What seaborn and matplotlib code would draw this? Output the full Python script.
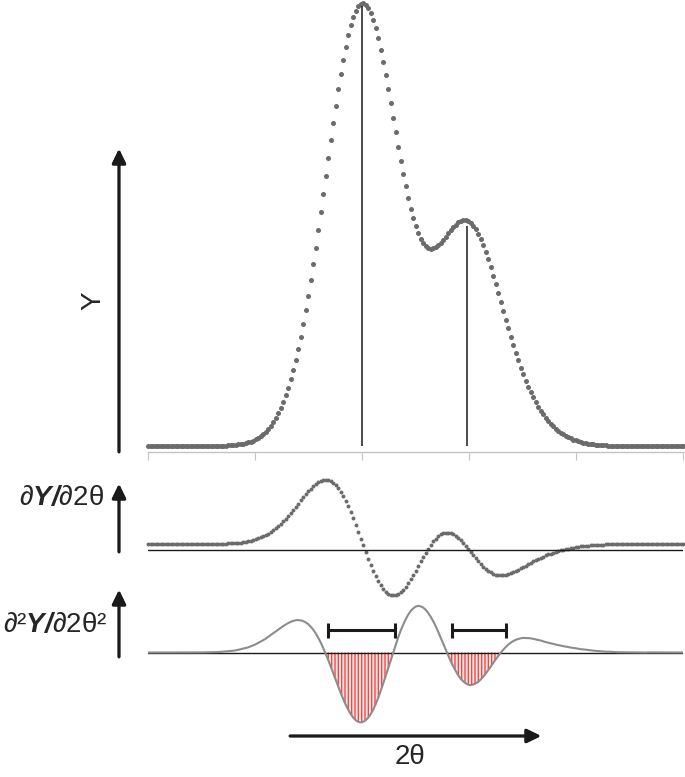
import numpy as np
import pandas as pd
import seaborn as sns
import matplotlib
matplotlib.use("Agg")
import matplotlib.pyplot as plt

# measured profile, one value per 2theta step (arbitrary units)
intensity = [
    0, 0, 0, 0, 0, 0, 0, 0, 0, 0, 0, 0, 0, 0, 0, 0, 0.01, 0.01, 0.01, 0.02,
    0.02, 0.03, 0.04, 0.05, 0.07, 0.09, 0.12, 0.16, 0.21, 0.27, 0.35, 0.45, 0.58, 0.74, 0.95, 1.2, 1.51, 1.89, 2.36, 2.94,
    3.64, 4.48, 5.49, 6.7, 8.13, 9.83, 11.83, 14.17, 16.89, 20.04, 23.68, 27.84, 32.59, 37.96, 44.03, 50.82, 58.4, 66.79, 76.04, 86.17,
    97.2, 109.14, 121.98, 135.7, 150.27, 165.64, 181.74, 198.49, 215.79, 233.51, 251.53, 269.69, 287.83, 305.78, 323.36, 340.38, 356.65, 371.99, 386.21, 399.14,
    410.62, 420.51, 428.69, 435.05, 439.52, 442.05, 442.62, 441.25, 437.98, 432.87, 426.03, 417.58, 407.67, 396.47, 384.18, 371, 357.15, 342.84, 328.3, 313.74,
    299.4, 285.46, 272.13, 259.57, 247.93, 237.34, 227.92, 219.72, 212.81, 207.21, 202.9, 199.86, 198.02, 197.3, 197.58, 198.76, 200.68, 203.2, 206.14, 209.34,
    212.64, 215.87, 218.86, 221.48, 223.59, 225.07, 225.81, 225.75, 224.83, 223.01, 220.27, 216.63, 212.13, 206.79, 200.69, 193.91, 186.52, 178.64, 170.34, 161.75,
    152.96, 144.06, 135.15, 126.31, 117.62, 109.14, 100.94, 93.05, 85.52, 78.36, 71.6, 65.25, 59.3, 53.76, 48.61, 43.85, 39.45, 35.4, 31.69, 28.29,
    25.18, 22.35, 19.77, 17.43, 15.32, 13.41, 11.7, 10.16, 8.79, 7.57, 6.49, 5.53, 4.7, 3.97, 3.33, 2.78, 2.31, 1.91, 1.57, 1.28,
    1.04, 0.84, 0.67, 0.54, 0.42, 0.33, 0.26, 0.2, 0.16, 0.12, 0.09, 0.07, 0.05, 0.04, 0.03, 0.02, 0.02, 0.01, 0.01, 0.01,
    0, 0, 0, 0, 0, 0, 0, 0, 0, 0, 0, 0, 0, 0, 0,
]
peak_positions = [85.6, 127.6]
peak_heights = [440, 220]
bracket_starts = [72, 121.6]
bracket_ends = [98.8, 143.2]
tick_positions = [0, 42.8, 85.6, 128.4, 171.2, 214]

df = pd.DataFrame({"two_theta": np.arange(len(intensity)), "Y": intensity})
# derivative traces, scaled for display
df["dY"] = np.gradient(df["Y"]) * 3.52
df["d2Y"] = np.gradient(np.gradient(df["Y"])) * 35.84

W, H = 685, 777
sns.set_theme(style="white")
plt.rcParams["font.family"] = ["Liberation Sans", "DejaVu Sans"]
plt.rcParams["mathtext.fontset"] = "custom"
plt.rcParams["mathtext.rm"] = "Liberation Sans"
plt.rcParams["mathtext.it"] = "Liberation Sans:italic"
plt.rcParams["mathtext.bf"] = "Liberation Sans:bold:italic"
plt.rcParams["hatch.linewidth"] = 1.0
plt.rcParams["hatch.color"] = "#ee4a44"

fig = plt.figure(figsize=(W / 100, H / 100), dpi=100)


def px_axes(x0, y_top, x1, y_bottom):
    # axes placed by pixel box (origin top-left)
    return fig.add_axes([x0 / W, 1 - y_bottom / H, (x1 - x0) / W, (y_bottom - y_top) / H])


dot = "#6b6b6b"
ax_top = px_axes(148, 4, 683, 446)
ax_mid = px_axes(148, 470, 683, 600)
ax_bot = px_axes(148, 600, 683, 730)

# Y
sns.scatterplot(data=df, x="two_theta", y="Y", ax=ax_top, s=13, color=dot,
                linewidth=0, clip_on=False)
ax_top.vlines(peak_positions, 0, peak_heights, color="k", lw=1.1)
ax_top.set_xlim(0, 214)
ax_top.set_ylim(0, 442)
for s in ["left", "right", "top"]:
    ax_top.spines[s].set_visible(False)
ax_top.spines["bottom"].set_position(("outward", 4.3))
ax_top.spines["bottom"].set_color("#c4c4c4")
ax_top.spines["bottom"].set_linewidth(1)
ax_top.set_xticks(tick_positions)
ax_top.set_yticks([])
ax_top.tick_params(axis="x", bottom=True, direction="out", length=5.8, width=0.8,
                   color="#c4c4c4", labelbottom=False)
ax_top.set_xlabel("")
ax_top.set_ylabel("")

# first derivative
sns.scatterplot(data=df, x="two_theta", y="dY", ax=ax_mid, s=8, color=dot,
                linewidth=0, clip_on=False)
ax_mid.axhline(-6, color="k", lw=1)
ax_mid.set_xlim(0, 214)
ax_mid.set_ylim(-56, 74)
ax_mid.axis("off")

# second derivative, negative parts hatched
ax_bot.fill_between(df["two_theta"], df["d2Y"], 0, where=df["d2Y"] < 0, interpolate=True,
                    facecolor="#fde6e6", edgecolor="#ee4a44", hatch="|||||", linewidth=0)
ax_bot.axhline(0, color="k", lw=1)
sns.lineplot(data=df, x="two_theta", y="d2Y", ax=ax_bot, color="#8c8c8c", lw=1.5)
ax_bot.hlines([22.5] * len(bracket_starts), bracket_starts, bracket_ends, color="k", lw=2.2)
ax_bot.vlines(bracket_starts + bracket_ends, 15, 30, color="k", lw=2.2)
ax_bot.set_xlim(0, 214)
ax_bot.set_ylim(-77.5, 52.5)
ax_bot.axis("off")

arrow = dict(arrowstyle="-|>,head_length=0.86,head_width=0.42", lw=2, color="k",
             shrinkA=0, shrinkB=0, mutation_scale=10)
for (x0, y0), (x1, y1) in [((119, 452), (119, 149)), ((119, 552), (119, 484)),
                           ((119, 657), (119, 590)), ((290, 736), (541, 736))]:
    fig.add_artist(plt.annotate("", xy=(x1, H - y1), xytext=(x0, H - y0),
                                xycoords="figure pixels", textcoords="figure pixels",
                                arrowprops=arrow))

fig.text(93 / W, 1 - 301 / H, "Y", rotation=90, fontsize=20, ha="center", va="center")
fig.text(104 / W, 1 - 498 / H, r"$\mathit{∂}\mathbf{Y/}\mathit{∂}$2θ", fontsize=20,
         ha="right", va="center")
fig.text(108 / W, 1 - 625 / H, r"$\mathit{∂}$²$\mathbf{Y/}\mathit{∂}$2θ²", fontsize=20,
         ha="right", va="center")
fig.text(410 / W, 1 - 757 / H, "2θ", fontsize=20, ha="center", va="center")

fig.savefig("out.png", dpi=100)
